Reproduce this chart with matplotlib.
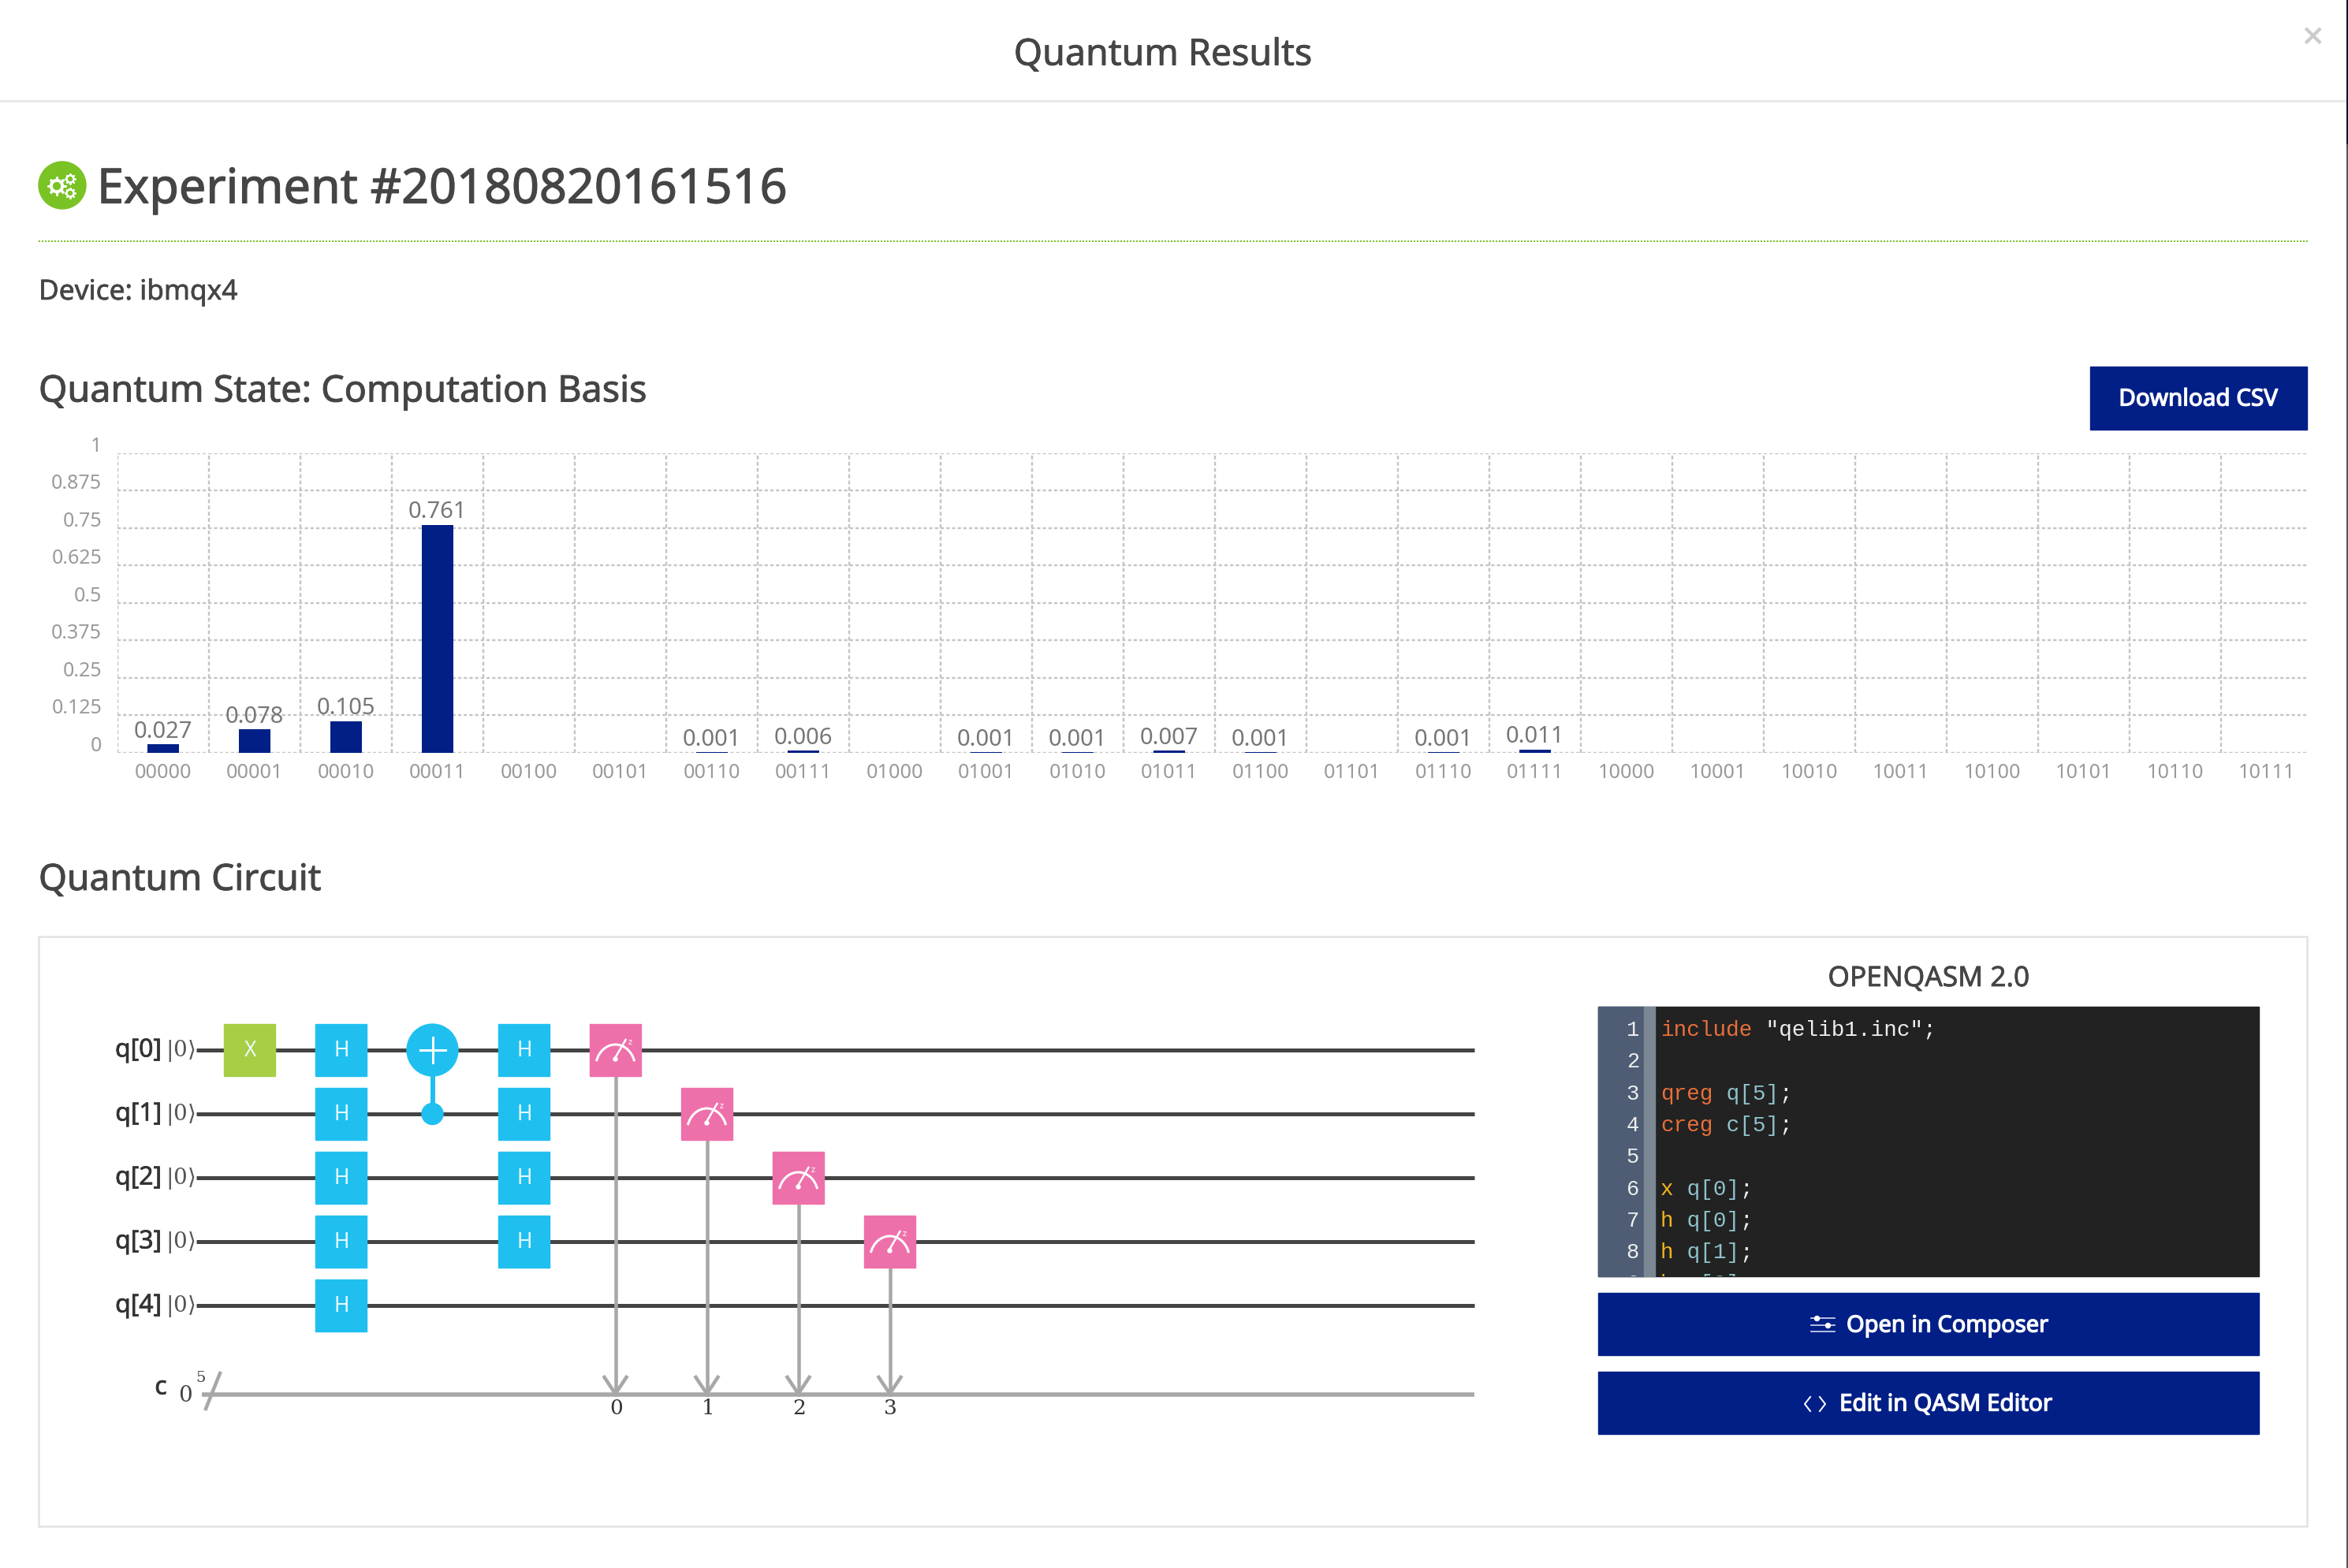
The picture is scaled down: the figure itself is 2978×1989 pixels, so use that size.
# 量子実験の結果画面を描く
import matplotlib
matplotlib.use("Agg")
import matplotlib.pyplot as plt
import matplotlib.patheffects as pe
from matplotlib.patches import Rectangle, Ellipse, Arc, Circle
from matplotlib.transforms import ScaledTranslation

W, H = 2978, 1990
FONT = "Noto Sans"
TEXT_COLOR = "#454545"
NAVY = "#011f86"
GREEN = "#79c325"

# ヒストグラムのデータ
states = ["00000", "00001", "00010", "00011", "00100", "00101", "00110", "00111",
          "01000", "01001", "01010", "01011", "01100", "01101", "01110", "01111",
          "10000", "10001", "10010", "10011", "10100", "10101", "10110", "10111"]
probabilities = [0.027, 0.078, 0.105, 0.761, 0, 0, 0.001, 0.006,
                 0, 0.001, 0.001, 0.007, 0.001, 0, 0.001, 0.011,
                 0, 0, 0, 0, 0, 0, 0, 0]
y_ticks = [0, 0.125, 0.25, 0.375, 0.5, 0.625, 0.75, 0.875, 1]
y_tick_labels = ["0", "0.125", "0.25", "0.375", "0.5", "0.625", "0.75", "0.875", "1"]

# 回路のデータ (ゲート名, 列, 量子ビット)
wire_labels = ["q[0]", "q[1]", "q[2]", "q[3]", "q[4]"]
x_gates = [(0, 0)]
h_gates = [(1, 0), (1, 1), (1, 2), (1, 3), (1, 4), (3, 0), (3, 1), (3, 2), (3, 3)]
cnot_gates = [(2, 0, 1)]
measures = [(4, 0), (5, 1), (6, 2), (7, 3)]

# OPENQASMのコード
ORANGE, BLUE, WHITE, YELLOW = "#e8703a", "#8fc3cc", "#eeeeee", "#f2b41e"
code_lines = [
    [("include", ORANGE), (' "qelib1.inc";', WHITE)],
    [],
    [("qreg", ORANGE), (" q[5]", BLUE), (";", WHITE)],
    [("creg", ORANGE), (" c[5]", BLUE), (";", WHITE)],
    [],
    [("x", YELLOW), (" q[0]", BLUE), (";", WHITE)],
    [("h", YELLOW), (" q[0]", BLUE), (";", WHITE)],
    [("h", YELLOW), (" q[1]", BLUE), (";", WHITE)],
    [("h", YELLOW), (" q[2]", BLUE), (";", WHITE)],
]


def px(width):
    return width * 72 / 100


def axes_from_pixels(x0, y0, x1, y1):
    return fig.add_axes([x0 / W, 1 - y1 / H, (x1 - x0) / W, (y1 - y0) / H])


def thicken(text, width, color):
    # Noto Sansは太字が無いので縁取りで太く見せる
    text.set_path_effects([pe.withStroke(linewidth=px(width), foreground=color)])


fig = plt.figure(figsize=(W / 100, H / 100), dpi=100, facecolor="white")

# 画面全体 ---------------------------------------------------------------------
page = fig.add_axes([0, 0, 1, 1])
page.set_xlim(0, W)
page.set_ylim(H, 0)
page.axis("off")

title = page.text(1475, 71, "Quantum Results", fontsize=33.5, family=FONT, color=TEXT_COLOR, ha="center", va="center")
thicken(title, 0.8, TEXT_COLOR)
page.text(2933, 48, "\u00d7", fontsize=27, family="DejaVu Sans", color="#cccccc", ha="center", va="center", fontweight="bold")
page.plot([0, W], [129, 129], color="#e6e6e6", lw=px(2.5))
page.plot([W - 1, W - 1], [0, 185], color="#0a1030", lw=px(2))
page.plot([W - 1, W - 1], [185, H], color="#555555", lw=px(2))

# 緑のアイコン (歯車3つ)
page.add_patch(Circle((79, 236), 30, color=GREEN))
for gx, gy, size, hole, tooth in [(72, 237, 8.5, 4.5, 3), (89, 228, 5, 2.5, 2), (89, 246, 5, 2.5, 2)]:
    page.plot(gx, gy, marker=(8, 2, 0), color="white", ms=px(size * 2.8), mew=px(tooth))
    page.add_patch(Circle((gx, gy), size, color="white", zorder=3))
    page.add_patch(Circle((gx, gy), hole, color=GREEN, zorder=4))

head = page.text(123, 243, "Experiment #20180820161516", fontsize=44, family=FONT, color=TEXT_COLOR, va="center")
thicken(head, 1.2, TEXT_COLOR)
page.plot([49, 2927], [307, 307], color=GREEN, lw=px(2), ls=(0, (1, 1)))
device = page.text(49, 372, "Device: ibmqx4", fontsize=25.4, family=FONT, color=TEXT_COLOR, va="center")
thicken(device, 0.6, TEXT_COLOR)
state_head = page.text(49, 498, "Quantum State: Computation Basis", fontsize=33.6, family=FONT, color=TEXT_COLOR, va="center")
thicken(state_head, 0.9, TEXT_COLOR)
circuit_head = page.text(49, 1118, "Quantum Circuit", fontsize=33.2, family=FONT, color=TEXT_COLOR, va="center")
thicken(circuit_head, 0.9, TEXT_COLOR)

page.add_patch(Rectangle((2651, 466), 275, 80, color=NAVY))
csv_text = page.text(2788, 508, "Download CSV", fontsize=21.3, family=FONT, color="white", ha="center", va="center")
thicken(csv_text, 1.3, "white")

# 回路の枠
page.add_patch(Rectangle((49, 1189), 2877, 748, fc="white", ec="#e2e2e2", lw=px(2.5)))

# ヒストグラム -----------------------------------------------------------------
ax = axes_from_pixels(148.6, 575.7, 2927, 955.7)
ax.set_xlim(0, 23.95)
ax.set_ylim(0, 1)
centers = [i + 0.5 for i in range(len(states))]
ax.bar(centers, probabilities, width=0.345, color=NAVY, zorder=3)
ax.set_xticks(centers)
ax.set_xticklabels(states)
ax.set_xticks(range(24), minor=True)
ax.set_yticks(y_ticks)
ax.set_yticklabels(y_tick_labels)
ax.tick_params(axis="both", which="both", length=0)
ax.tick_params(axis="x", pad=8.5, labelsize=18.2, labelcolor="#9a9a9a")
ax.tick_params(axis="y", pad=14, labelsize=18, labelcolor="#9a9a9a")
for label in ax.get_xticklabels() + ax.get_yticklabels():
    label.set_family(FONT)
offset = ScaledTranslation(0, 0.125, fig.dpi_scale_trans)
for label in ax.get_yticklabels():
    label.set_transform(label.get_transform() + offset)
ax.grid(True, axis="y", which="major", color="#c4c4c4", lw=px(2.4), ls=(0, (1.7, 1.3)), zorder=1)
ax.grid(True, axis="x", which="minor", color="#c4c4c4", lw=px(2.4), ls=(0, (2, 1.3)), zorder=1)
for spine in ax.spines.values():
    spine.set_visible(False)
for c, p in zip(centers, probabilities):
    if p > 0:
        ax.annotate(f"{p:g}", (c, p), xytext=(0, px(17)), textcoords="offset points",
                    ha="center", va="center", fontsize=21, family=FONT, color="#777777")

# 量子回路 ---------------------------------------------------------------------
COL_PX, ROW_PX = 116, 81
COL0_X, ROW0_Y = 316.5, 1333
cx0, cy0, cx1, cy1 = 130, 1250, 1900, 1850
circ = axes_from_pixels(cx0, cy0, cx1, cy1)
circ.set_xlim((cx0 - COL0_X) / COL_PX, (cx1 - COL0_X) / COL_PX)
circ.set_ylim((cy1 - ROW0_Y) / ROW_PX, (cy0 - ROW0_Y) / ROW_PX)
circ.axis("off")
circ.patch.set_alpha(0)

GATE_W, GATE_H = 65 / COL_PX, 66 / ROW_PX
C_ROW = (1770 - ROW0_Y) / ROW_PX
WIRE_START, WIRE_END = (249 - COL0_X) / COL_PX, (1870 - COL0_X) / COL_PX
GREY = "#a9a6a6"
CYAN = "#1fc0f0"
PINK = "#ee70aa"


def gate_box(col, row, color, name=None):
    circ.add_patch(Rectangle((col - GATE_W / 2, row - GATE_H / 2), GATE_W, GATE_H, color=color, zorder=4))
    if name:
        circ.text(col + 0.01, row, name, fontsize=19, family=FONT, color="#eafaff", ha="center", va="center", zorder=5)


for row, name in enumerate(wire_labels):
    circ.plot([WIRE_START, WIRE_END], [row, row], color="#444444", lw=px(5), solid_capstyle="butt", zorder=1)
    wire_text = circ.text((205 - COL0_X) / COL_PX, row, name, fontsize=23, family=FONT, color="#333333", ha="right", va="center")
    thicken(wire_text, 0.7, "#333333")
    circ.text((229 - COL0_X) / COL_PX, row, r"$|0\rangle$", fontsize=20, color="#555555", ha="center", va="center",
              math_fontfamily="dejavuserif")

c_start = (256 - COL0_X) / COL_PX
circ.plot([c_start, WIRE_END], [C_ROW, C_ROW], color=GREY, lw=px(5.5), solid_capstyle="butt", zorder=1)
circ.plot([(279 - COL0_X) / COL_PX, (261 - COL0_X) / COL_PX], [C_ROW - 27 / ROW_PX, C_ROW + 18 / ROW_PX],
          color=GREY, lw=px(4.5), zorder=1)
c_text = circ.text((204 - COL0_X) / COL_PX, C_ROW - 9 / ROW_PX, "c", fontsize=23, family=FONT, color="#333333", ha="center", va="center")
thicken(c_text, 0.7, "#333333")
circ.text((235 - COL0_X) / COL_PX, C_ROW, "0", fontsize=20, family="DejaVu Serif", color="#444444", ha="center", va="center")
circ.text((255 - COL0_X) / COL_PX, C_ROW - 22 / ROW_PX, "5", fontsize=14, family="DejaVu Serif", color="#444444", ha="center", va="center")

for col, row in x_gates:
    gate_box(col, row, "#a8ce45", "X")
for col, row in h_gates:
    gate_box(col, row, CYAN, "H")
for col, target, control in cnot_gates:
    circ.plot([col, col], [target, control], color=CYAN, lw=px(6), zorder=4)
    circ.add_patch(Ellipse((col, target), GATE_W, GATE_H, color=CYAN, zorder=4))
    circ.add_patch(Ellipse((col, control), 27 / COL_PX, 27 / ROW_PX, color=CYAN, zorder=4))
    circ.plot([col - 16 / COL_PX, col + 16 / COL_PX], [target, target], color="white", lw=px(3), zorder=5)
    circ.plot([col, col], [target - 16 / ROW_PX, target + 16 / ROW_PX], color="white", lw=px(3), zorder=5)

for bit, (col, row) in enumerate(measures):
    gate_box(col, row, PINK)
    circ.plot([col, col], [row, C_ROW], color=GREY, lw=px(4.5), zorder=2)
    for side in (-1, 1):
        circ.plot([col + side * 14 / COL_PX, col], [C_ROW - 22 / ROW_PX, C_ROW - 1 / ROW_PX], color=GREY, lw=px(4.5), zorder=2)
    circ.text(col + 0.01, C_ROW + 17 / ROW_PX, str(bit), fontsize=19, family="DejaVu Serif", color="#333333", ha="center", va="center")
    # メーターの絵
    circ.add_patch(Arc((col, row + 22 / ROW_PX), 50 / COL_PX, 58 / ROW_PX, theta1=205, theta2=335, color="white", lw=px(3), zorder=5))
    circ.plot([col - 1 / COL_PX, col + 13 / COL_PX], [row + 11 / ROW_PX, row - 13 / ROW_PX], color="white", lw=px(2.5), zorder=5)
    circ.plot(col - 1 / COL_PX, row + 11 / ROW_PX, "o", color="white", ms=px(5), zorder=5)
    circ.text(col + 19 / COL_PX, row - 11 / ROW_PX, "z", fontsize=7, color="white", ha="center", va="center", zorder=5)

# OPENQASMパネル ---------------------------------------------------------------
qasm_head = page.text(2446, 1243, "OPENQASM 2.0", fontsize=25.4, family=FONT, color=TEXT_COLOR, ha="center", va="center")
thicken(qasm_head, 0.7, TEXT_COLOR)
PANEL_X, PANEL_Y, PANEL_W, PANEL_H = 2027, 1278, 838, 342
page.add_patch(Rectangle((PANEL_X, PANEL_Y), PANEL_W, PANEL_H, color="#222222"))
page.add_patch(Rectangle((PANEL_X, PANEL_Y), 58, PANEL_H, color="#4e5d74"))
page.add_patch(Rectangle((PANEL_X + 58, PANEL_Y), 14, PANEL_H, color="#7b8894"))
clip = Rectangle((PANEL_X, PANEL_Y), PANEL_W, PANEL_H, transform=page.transData)
CHAR_PX, LINE_PX = 16.7, 40.3
for n, segments in enumerate(code_lines):
    y = 1307 + n * LINE_PX
    t = page.text(2079, y, str(n + 1), fontsize=19.5, family="Liberation Mono", color="#eeeeee", ha="right", va="center")
    t.set_clip_path(clip)
    t.set_clip_on(True)
    column = 0
    for chunk, color in segments:
        t = page.text(2106 + column * CHAR_PX, y, chunk, fontsize=19.9, family="Liberation Mono", color=color, va="center")
        t.set_clip_path(clip)
        t.set_clip_on(True)
        column += len(chunk)

page.add_patch(Rectangle((PANEL_X, 1641), PANEL_W, 79, color=NAVY))
page.add_patch(Rectangle((PANEL_X, 1741), PANEL_W, 79, color=NAVY))
open_text = page.text(2342, 1683, "Open in Composer", fontsize=20.9, family=FONT, color="white", va="center")
edit_text = page.text(2333, 1783, "Edit in QASM Editor", fontsize=21.3, family=FONT, color="white", va="center")
thicken(open_text, 1.3, "white")
thicken(edit_text, 1.3, "white")
for y, knob in [(1673, 2304), (1682, 2318), (1690, None)]:
    page.plot([2297, 2327], [y, y], color="#c5cdea", lw=px(1.8))
    if knob:
        page.plot(knob, y, "o", color="white", ms=px(6))
page.plot([2296, 2289, 2296], [1773, 1782, 1791], color="white", lw=px(2))
page.plot([2308, 2315, 2308], [1773, 1782, 1791], color="white", lw=px(2))

fig.savefig("out.png", dpi=100)
